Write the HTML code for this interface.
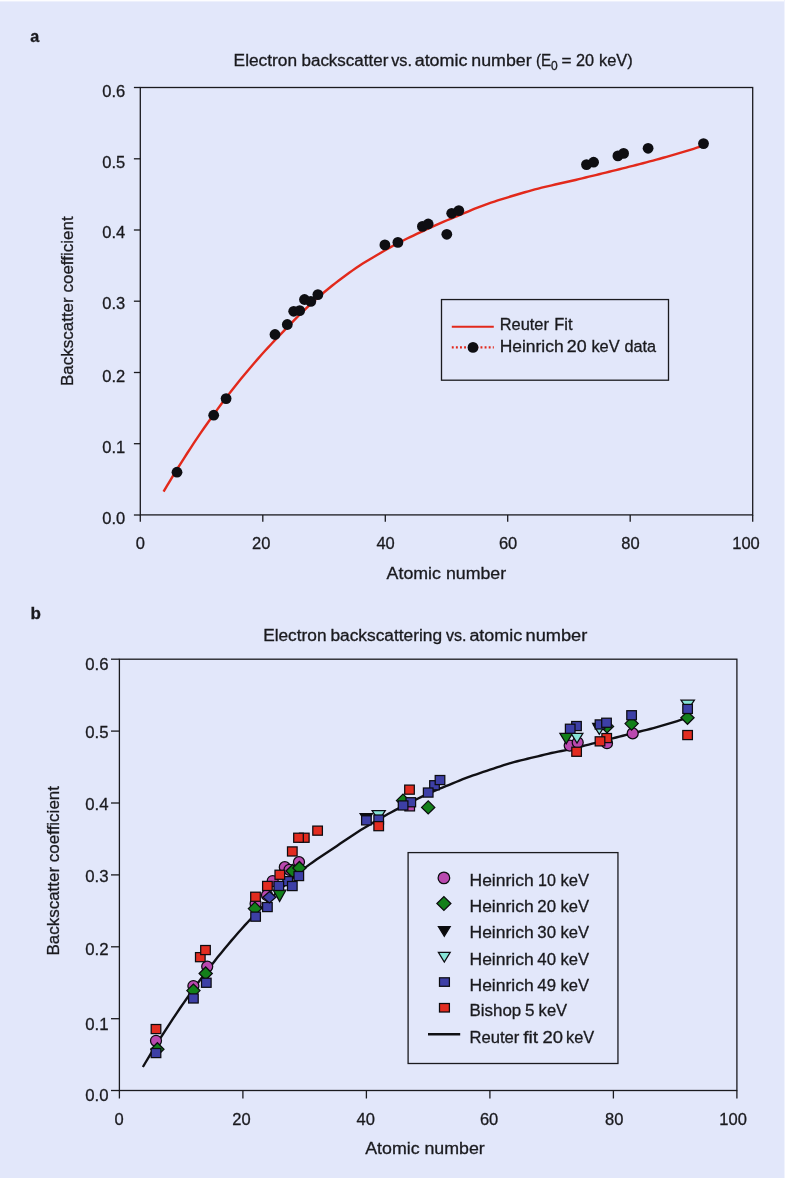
<!DOCTYPE html>
<html lang="en"><head><meta charset="utf-8"><title>Electron backscatter vs. atomic number</title>
<style>html,body{margin:0;padding:0;background:#e2e7fa;}body{width:785px;height:1178px;overflow:hidden;}svg{display:block;}text{font-family:"Liberation Sans", sans-serif;fill:#1a1a1e;stroke:#1a1a1e;stroke-width:0.3px;}</style>
</head><body>
<svg width="785" height="1178" viewBox="0 0 785 1178">
<rect x="0" y="0" width="785" height="1178" fill="#e2e7fa"/>
<rect x="0" y="0" width="785" height="1" fill="#fdfdfe"/>
<rect x="0" y="1" width="785" height="1" fill="#edf0fc"/>
<rect x="784" y="0" width="1" height="1178" fill="#f0f3fd"/>
<g id="chart-a">
<text x="30.2" y="41.6" font-size="17.4" textLength="9.0" lengthAdjust="spacingAndGlyphs" font-weight="bold">a</text>
<text y="66.4" font-size="15.6"><tspan x="233.6" textLength="63.5" lengthAdjust="spacingAndGlyphs">Electron</tspan> <tspan x="301.5" textLength="86.8" lengthAdjust="spacingAndGlyphs">backscatter</tspan> <tspan x="391.2" textLength="20.8" lengthAdjust="spacingAndGlyphs">vs.</tspan> <tspan x="414.7" textLength="52.7" lengthAdjust="spacingAndGlyphs">atomic</tspan> <tspan x="471.3" textLength="60.3" lengthAdjust="spacingAndGlyphs">number</tspan> <tspan x="536.0" textLength="15.2" lengthAdjust="spacingAndGlyphs">(E</tspan><tspan x="550.9" dy="3.6" font-size="12">0</tspan> <tspan x="561.6" dy="-3.6" textLength="10.0" lengthAdjust="spacingAndGlyphs">=</tspan> <tspan x="575.9" textLength="18.1" lengthAdjust="spacingAndGlyphs">20</tspan> <tspan x="599.0" textLength="33.8" lengthAdjust="spacingAndGlyphs">keV)</tspan></text>
<rect x="140.3" y="87.5" width="612.4" height="427.4" fill="none" stroke="#1a1a1e" stroke-width="1.3"/>
<line x1="133.9" y1="515.0" x2="140.3" y2="515.0" stroke="#1a1a1e" stroke-width="1.3"/>
<text x="125.2" y="523.8" font-size="16.5" text-anchor="end">0.0</text>
<line x1="133.9" y1="443.7" x2="140.3" y2="443.7" stroke="#1a1a1e" stroke-width="1.3"/>
<text x="125.2" y="452.9" font-size="16.5" text-anchor="end">0.1</text>
<line x1="133.9" y1="372.5" x2="140.3" y2="372.5" stroke="#1a1a1e" stroke-width="1.3"/>
<text x="125.2" y="381.9" font-size="16.5" text-anchor="end">0.2</text>
<line x1="133.9" y1="301.2" x2="140.3" y2="301.2" stroke="#1a1a1e" stroke-width="1.3"/>
<text x="125.2" y="309.0" font-size="16.5" text-anchor="end">0.3</text>
<line x1="133.9" y1="230.0" x2="140.3" y2="230.0" stroke="#1a1a1e" stroke-width="1.3"/>
<text x="125.2" y="238.4" font-size="16.5" text-anchor="end">0.4</text>
<line x1="133.9" y1="158.8" x2="140.3" y2="158.8" stroke="#1a1a1e" stroke-width="1.3"/>
<text x="125.2" y="168.0" font-size="16.5" text-anchor="end">0.5</text>
<line x1="133.9" y1="87.5" x2="140.3" y2="87.5" stroke="#1a1a1e" stroke-width="1.3"/>
<text x="125.2" y="97.2" font-size="16.5" text-anchor="end">0.6</text>
<line x1="140.3" y1="515.0" x2="140.3" y2="521.8" stroke="#1a1a1e" stroke-width="1.3"/>
<text x="140.3" y="549.0" font-size="16.5" text-anchor="middle">0</text>
<line x1="262.8" y1="515.0" x2="262.8" y2="521.8" stroke="#1a1a1e" stroke-width="1.3"/>
<text x="261.2" y="549.0" font-size="16.5" text-anchor="middle">20</text>
<line x1="385.3" y1="515.0" x2="385.3" y2="521.8" stroke="#1a1a1e" stroke-width="1.3"/>
<text x="385.6" y="549.0" font-size="16.5" text-anchor="middle">40</text>
<line x1="507.7" y1="515.0" x2="507.7" y2="521.8" stroke="#1a1a1e" stroke-width="1.3"/>
<text x="508.1" y="549.0" font-size="16.5" text-anchor="middle">60</text>
<line x1="630.2" y1="515.0" x2="630.2" y2="521.8" stroke="#1a1a1e" stroke-width="1.3"/>
<text x="630.5" y="549.0" font-size="16.5" text-anchor="middle">80</text>
<line x1="752.7" y1="515.0" x2="752.7" y2="521.8" stroke="#1a1a1e" stroke-width="1.3"/>
<text x="746.0" y="549.0" font-size="16.5" text-anchor="middle">100</text>
<text x="386.6" y="578.5" font-size="17.0" textLength="119.6" lengthAdjust="spacingAndGlyphs">Atomic number</text>
<text transform="translate(72.6,386.0) rotate(-90)" font-size="17.4" textLength="169.6" lengthAdjust="spacingAndGlyphs">Backscatter coefficient</text>
<polyline points="163.57,491.61 166.95,485.91 170.32,480.28 173.70,474.73 177.07,469.25 180.45,463.85 183.83,458.52 187.20,453.26 190.58,448.07 193.95,442.96 197.33,437.92 200.71,432.94 204.08,428.04 207.46,423.21 210.83,418.44 214.21,413.75 217.58,409.12 220.96,404.56 224.34,400.06 227.71,395.63 231.09,391.27 234.46,386.97 237.84,382.73 241.22,378.56 244.59,374.45 247.97,370.40 251.34,366.42 254.72,362.49 258.10,358.63 261.47,354.82 264.85,351.07 268.22,347.39 271.60,343.76 274.97,340.19 278.35,336.64 281.73,333.10 285.10,329.57 288.48,326.07 291.85,322.58 295.23,319.14 298.61,315.73 301.98,312.38 305.36,309.08 308.73,305.85 312.11,302.69 315.48,299.62 318.86,296.63 322.24,293.75 325.61,290.96 328.99,288.22 332.36,285.54 335.74,282.90 339.12,280.30 342.49,277.75 345.87,275.25 349.24,272.79 352.62,270.37 355.99,268.01 359.37,265.74 362.75,263.57 366.12,261.48 369.50,259.44 372.87,257.45 376.25,255.49 379.63,253.53 383.00,251.56 386.38,249.57 389.75,247.62 393.13,245.75 396.51,243.94 399.88,242.18 403.26,240.47 406.63,238.79 410.01,237.16 413.38,235.55 416.76,233.96 420.14,232.38 423.51,230.81 426.89,229.24 430.26,227.67 433.64,226.12 437.02,224.61 440.39,223.12 443.77,221.66 447.14,220.23 450.52,218.82 453.89,217.44 457.27,216.04 460.65,214.62 464.02,213.20 467.40,211.77 470.77,210.36 474.15,208.96 477.53,207.60 480.90,206.29 484.28,205.02 487.65,203.81 491.03,202.67 494.40,201.56 497.78,200.46 501.16,199.38 504.53,198.32 507.91,197.28 511.28,196.25 514.66,195.23 518.04,194.23 521.41,193.25 524.79,192.27 528.16,191.31 531.54,190.37 534.92,189.44 538.29,188.55 541.67,187.70 545.04,186.88 548.42,186.08 551.79,185.31 555.17,184.54 558.55,183.79 561.92,183.04 565.30,182.29 568.67,181.54 572.05,180.77 575.43,179.99 578.80,179.19 582.18,178.36 585.55,177.53 588.93,176.70 592.30,175.87 595.68,175.05 599.06,174.22 602.43,173.39 605.81,172.56 609.18,171.73 612.56,170.90 615.94,170.07 619.31,169.23 622.69,168.39 626.06,167.54 629.44,166.69 632.82,165.84 636.19,164.98 639.57,164.11 642.94,163.23 646.32,162.35 649.69,161.45 653.07,160.55 656.45,159.64 659.82,158.72 663.20,157.78 666.57,156.84 669.95,155.88 673.33,154.91 676.70,153.93 680.08,152.94 683.45,151.92 686.83,150.90 690.20,149.86 693.58,148.80 696.96,147.72 700.33,146.63 703.71,145.52" fill="none" stroke="#e2291b" stroke-width="2.4"/>
<circle cx="177.0" cy="472.2" r="5.4" fill="#0e0e12"/>
<circle cx="213.7" cy="415.2" r="5.4" fill="#0e0e12"/>
<circle cx="226.1" cy="398.6" r="5.4" fill="#0e0e12"/>
<circle cx="275.0" cy="334.5" r="5.4" fill="#0e0e12"/>
<circle cx="287.3" cy="324.5" r="5.4" fill="#0e0e12"/>
<circle cx="293.7" cy="311.3" r="5.4" fill="#0e0e12"/>
<circle cx="299.7" cy="310.6" r="5.4" fill="#0e0e12"/>
<circle cx="304.5" cy="299.5" r="5.4" fill="#0e0e12"/>
<circle cx="310.8" cy="301.4" r="5.4" fill="#0e0e12"/>
<circle cx="317.9" cy="294.6" r="5.4" fill="#0e0e12"/>
<circle cx="384.9" cy="244.9" r="5.4" fill="#0e0e12"/>
<circle cx="397.9" cy="242.4" r="5.4" fill="#0e0e12"/>
<circle cx="422.4" cy="226.4" r="5.4" fill="#0e0e12"/>
<circle cx="428.2" cy="224.0" r="5.4" fill="#0e0e12"/>
<circle cx="446.8" cy="234.3" r="5.4" fill="#0e0e12"/>
<circle cx="451.7" cy="213.3" r="5.4" fill="#0e0e12"/>
<circle cx="458.8" cy="210.6" r="5.4" fill="#0e0e12"/>
<circle cx="586.5" cy="164.6" r="5.4" fill="#0e0e12"/>
<circle cx="593.6" cy="162.2" r="5.4" fill="#0e0e12"/>
<circle cx="617.9" cy="155.9" r="5.4" fill="#0e0e12"/>
<circle cx="623.6" cy="153.4" r="5.4" fill="#0e0e12"/>
<circle cx="648.1" cy="148.3" r="5.4" fill="#0e0e12"/>
<circle cx="703.5" cy="143.6" r="5.4" fill="#0e0e12"/>
<rect x="441.5" y="299.55" width="227.0" height="80.65" fill="#e2e7fa" stroke="#1a1a1e" stroke-width="1.3"/>
<line x1="451.8" y1="326.7" x2="493.8" y2="326.7" stroke="#e2291b" stroke-width="2.1"/>
<line x1="451.8" y1="347.4" x2="493.8" y2="347.4" stroke="#e2291b" stroke-width="2.1" stroke-dasharray="1.9 2.2"/>
<circle cx="473.0" cy="347.4" r="5.4" fill="#0e0e12"/>
<text y="329.7" font-size="16.3"><tspan x="499.7" textLength="49.2" lengthAdjust="spacingAndGlyphs">Reuter</tspan> <tspan x="554.2" textLength="18.3" lengthAdjust="spacingAndGlyphs">Fit</tspan></text>
<text y="351.9" font-size="16.3"><tspan x="499.7" textLength="64.0" lengthAdjust="spacingAndGlyphs">Heinrich</tspan> <tspan x="566.8" textLength="19.8" lengthAdjust="spacingAndGlyphs">20</tspan> <tspan x="591.4" textLength="28.3" lengthAdjust="spacingAndGlyphs">keV</tspan> <tspan x="624.5" textLength="31.6" lengthAdjust="spacingAndGlyphs">data</tspan></text>
</g>
<g id="chart-b">
<text x="30.4" y="619.2" font-size="17.0" font-weight="bold">b</text>
<text y="640.5" font-size="15.8"><tspan x="263.2" textLength="63.3" lengthAdjust="spacingAndGlyphs">Electron</tspan> <tspan x="330.4" textLength="111.7" lengthAdjust="spacingAndGlyphs">backscattering</tspan> <tspan x="446.0" textLength="20.5" lengthAdjust="spacingAndGlyphs">vs.</tspan> <tspan x="469.4" textLength="52.8" lengthAdjust="spacingAndGlyphs">atomic</tspan> <tspan x="525.5" textLength="61.8" lengthAdjust="spacingAndGlyphs">number</tspan></text>
<rect x="119.4" y="659.2" width="617.5" height="431.3" fill="none" stroke="#1a1a1e" stroke-width="1.3"/>
<line x1="111.0" y1="1090.5" x2="119.4" y2="1090.5" stroke="#1a1a1e" stroke-width="1.3"/>
<text x="108.6" y="1100.6" font-size="16.8" text-anchor="end">0.0</text>
<line x1="111.0" y1="1018.7" x2="119.4" y2="1018.7" stroke="#1a1a1e" stroke-width="1.3"/>
<text x="108.6" y="1029.7" font-size="16.8" text-anchor="end">0.1</text>
<line x1="111.0" y1="946.8" x2="119.4" y2="946.8" stroke="#1a1a1e" stroke-width="1.3"/>
<text x="108.6" y="954.8" font-size="16.8" text-anchor="end">0.2</text>
<line x1="111.0" y1="874.9" x2="119.4" y2="874.9" stroke="#1a1a1e" stroke-width="1.3"/>
<text x="108.6" y="882.3" font-size="16.8" text-anchor="end">0.3</text>
<line x1="111.0" y1="803.0" x2="119.4" y2="803.0" stroke="#1a1a1e" stroke-width="1.3"/>
<text x="108.6" y="810.0" font-size="16.8" text-anchor="end">0.4</text>
<line x1="111.0" y1="731.1" x2="119.4" y2="731.1" stroke="#1a1a1e" stroke-width="1.3"/>
<text x="108.6" y="738.0" font-size="16.8" text-anchor="end">0.5</text>
<line x1="111.0" y1="659.2" x2="119.4" y2="659.2" stroke="#1a1a1e" stroke-width="1.3"/>
<text x="108.6" y="669.5" font-size="16.8" text-anchor="end">0.6</text>
<line x1="119.4" y1="1090.5" x2="119.4" y2="1098.5" stroke="#1a1a1e" stroke-width="1.3"/>
<text x="119.1" y="1125.2" font-size="16.5" text-anchor="middle">0</text>
<line x1="242.9" y1="1090.5" x2="242.9" y2="1098.5" stroke="#1a1a1e" stroke-width="1.3"/>
<text x="241.4" y="1125.2" font-size="16.5" text-anchor="middle">20</text>
<line x1="366.4" y1="1090.5" x2="366.4" y2="1098.5" stroke="#1a1a1e" stroke-width="1.3"/>
<text x="365.8" y="1125.2" font-size="16.5" text-anchor="middle">40</text>
<line x1="489.9" y1="1090.5" x2="489.9" y2="1098.5" stroke="#1a1a1e" stroke-width="1.3"/>
<text x="489.1" y="1125.2" font-size="16.5" text-anchor="middle">60</text>
<line x1="613.4" y1="1090.5" x2="613.4" y2="1098.5" stroke="#1a1a1e" stroke-width="1.3"/>
<text x="614.3" y="1125.2" font-size="16.5" text-anchor="middle">80</text>
<line x1="736.9" y1="1090.5" x2="736.9" y2="1098.5" stroke="#1a1a1e" stroke-width="1.3"/>
<text x="733.1" y="1125.2" font-size="16.5" text-anchor="middle">100</text>
<text x="365.2" y="1153.5" font-size="17.0" textLength="119.6" lengthAdjust="spacingAndGlyphs">Atomic number</text>
<text transform="translate(59.4,955.6) rotate(-90)" font-size="17.4" textLength="169.6" lengthAdjust="spacingAndGlyphs">Backscatter coefficient</text>
<polyline points="142.87,1067.00 146.27,1061.24 149.67,1055.56 153.08,1049.96 156.48,1044.43 159.88,1038.98 163.29,1033.60 166.69,1028.29 170.10,1023.06 173.50,1017.90 176.90,1012.81 180.31,1007.79 183.71,1002.84 187.12,997.96 190.52,993.15 193.92,988.42 197.33,983.74 200.73,979.14 204.14,974.60 207.54,970.13 210.94,965.73 214.35,961.39 217.75,957.11 221.16,952.90 224.56,948.75 227.96,944.67 231.37,940.65 234.77,936.68 238.18,932.78 241.58,928.94 244.98,925.16 248.39,921.44 251.79,917.78 255.20,914.17 258.60,910.63 262.00,907.14 265.41,903.70 268.81,900.32 272.22,897.00 275.62,893.73 279.02,890.51 282.43,887.35 285.83,884.24 289.24,881.18 292.64,878.17 296.04,875.22 299.45,872.32 302.85,869.54 306.26,866.89 309.66,864.35 313.06,861.91 316.47,859.55 319.87,857.24 323.28,854.97 326.68,852.72 330.08,850.47 333.49,848.21 336.89,845.91 340.30,843.57 343.70,841.24 347.10,838.94 350.51,836.66 353.91,834.42 357.32,832.23 360.72,830.08 364.12,827.99 367.53,825.95 370.93,823.92 374.33,821.90 377.74,819.89 381.14,817.90 384.55,815.95 387.95,814.04 391.35,812.18 394.76,810.39 398.16,808.66 401.57,806.94 404.97,805.21 408.37,803.47 411.78,801.73 415.18,800.01 418.59,798.30 421.99,796.62 425.39,794.98 428.80,793.38 432.20,791.84 435.61,790.36 439.01,788.94 442.41,787.58 445.82,786.21 449.22,784.81 452.63,783.40 456.03,781.99 459.43,780.60 462.84,779.23 466.24,777.91 469.65,776.63 473.05,775.41 476.45,774.27 479.86,773.13 483.26,771.98 486.67,770.83 490.07,769.67 493.47,768.52 496.88,767.38 500.28,766.27 503.69,765.19 507.09,764.14 510.49,763.14 513.90,762.19 517.30,761.28 520.71,760.41 524.11,759.57 527.51,758.74 530.92,757.93 534.32,757.13 537.73,756.32 541.13,755.50 544.53,754.67 547.94,753.82 551.34,753.04 554.75,752.34 558.15,751.69 561.55,751.05 564.96,750.38 568.36,749.65 571.77,748.82 575.17,747.98 578.57,747.13 581.98,746.27 585.38,745.41 588.78,744.54 592.19,743.67 595.59,742.80 599.00,741.92 602.40,741.04 605.80,740.16 609.21,739.28 612.61,738.40 616.02,737.52 619.42,736.63 622.82,735.75 626.23,734.89 629.63,734.03 633.04,733.20 636.44,732.36 639.84,731.53 643.25,730.69 646.65,729.84 650.06,728.97 653.46,728.07 656.86,727.15 660.27,726.20 663.67,725.20 667.08,724.18 670.48,723.14 673.88,722.09 677.29,721.02 680.69,719.94 684.10,718.84 687.50,717.71" fill="none" stroke="#101014" stroke-width="2.4"/>
<circle cx="156.0" cy="1040.8" r="5.5" fill="#ba49af" stroke="#0c0c10" stroke-width="1.25"/>
<circle cx="193.4" cy="986.0" r="5.5" fill="#ba49af" stroke="#0c0c10" stroke-width="1.25"/>
<circle cx="207.2" cy="966.6" r="5.5" fill="#ba49af" stroke="#0c0c10" stroke-width="1.25"/>
<circle cx="255.6" cy="903.7" r="5.5" fill="#ba49af" stroke="#0c0c10" stroke-width="1.25"/>
<circle cx="267.0" cy="895.2" r="5.5" fill="#ba49af" stroke="#0c0c10" stroke-width="1.25"/>
<circle cx="272.7" cy="881.0" r="5.5" fill="#ba49af" stroke="#0c0c10" stroke-width="1.25"/>
<circle cx="284.8" cy="867.2" r="5.5" fill="#ba49af" stroke="#0c0c10" stroke-width="1.25"/>
<circle cx="289.5" cy="869.8" r="5.5" fill="#ba49af" stroke="#0c0c10" stroke-width="1.25"/>
<circle cx="299.0" cy="862.1" r="5.5" fill="#ba49af" stroke="#0c0c10" stroke-width="1.25"/>
<circle cx="569.7" cy="745.6" r="5.5" fill="#ba49af" stroke="#0c0c10" stroke-width="1.25"/>
<circle cx="577.7" cy="742.5" r="5.5" fill="#ba49af" stroke="#0c0c10" stroke-width="1.25"/>
<circle cx="607.0" cy="743.2" r="5.5" fill="#ba49af" stroke="#0c0c10" stroke-width="1.25"/>
<circle cx="632.7" cy="733.4" r="5.5" fill="#ba49af" stroke="#0c0c10" stroke-width="1.25"/>
<rect x="404.9" y="801.8" width="9.6" height="9.1" fill="#ba49af" stroke="#0c0c10" stroke-width="1.25"/>
<polygon points="150.8,1049.2 157.4,1042.7 164.0,1049.2 157.4,1055.7" fill="#13801a" stroke="#0c0c10" stroke-width="1.25"/>
<polygon points="186.8,990.6 193.4,984.1 200.0,990.6 193.4,997.1" fill="#13801a" stroke="#0c0c10" stroke-width="1.25"/>
<polygon points="199.1,973.5 205.7,967.0 212.3,973.5 205.7,980.0" fill="#13801a" stroke="#0c0c10" stroke-width="1.25"/>
<polygon points="248.3,908.6 254.9,902.1 261.5,908.6 254.9,915.1" fill="#13801a" stroke="#0c0c10" stroke-width="1.25"/>
<polygon points="286.0,871.0 292.6,864.5 299.2,871.0 292.6,877.5" fill="#13801a" stroke="#0c0c10" stroke-width="1.25"/>
<polygon points="292.8,868.0 299.4,861.5 306.0,868.0 299.4,874.5" fill="#13801a" stroke="#0c0c10" stroke-width="1.25"/>
<polygon points="396.4,800.6 403.0,794.1 409.6,800.6 403.0,807.1" fill="#13801a" stroke="#0c0c10" stroke-width="1.25"/>
<polygon points="421.6,807.4 428.2,800.9 434.8,807.4 428.2,813.9" fill="#13801a" stroke="#0c0c10" stroke-width="1.25"/>
<polygon points="600.4,726.4 607.0,719.9 613.6,726.4 607.0,732.9" fill="#13801a" stroke="#0c0c10" stroke-width="1.25"/>
<polygon points="625.0,723.6 631.6,717.1 638.2,723.6 631.6,730.1" fill="#13801a" stroke="#0c0c10" stroke-width="1.25"/>
<polygon points="680.9,717.8 687.5,711.3 694.1,717.8 687.5,724.3" fill="#13801a" stroke="#0c0c10" stroke-width="1.25"/>
<polygon points="360.1,813.6 372.5,813.6 366.3,823.2" fill="#0a0a0c" stroke="#0c0c10" stroke-width="1.25"/>
<polygon points="592.7,723.3 605.1,723.3 598.9,732.9" fill="#0a0a0c" stroke="#0c0c10" stroke-width="1.25"/>
<polygon points="273.3,890.2 285.9,890.2 279.6,901.4" fill="#13801a" stroke="#0c0c10" stroke-width="1.25"/>
<polygon points="559.9,733.4 572.5,733.4 566.2,743.8" fill="#13801a" stroke="#0c0c10" stroke-width="1.25"/>
<polygon points="372.1,810.7 385.3,810.7 378.7,820.7" fill="#86e3d6" stroke="#0c0c10" stroke-width="1.25"/>
<polygon points="571.1,733.4 582.9,733.4 577.0,743.0" fill="#86e3d6" stroke="#0c0c10" stroke-width="1.25"/>
<polygon points="593.5,725.0 605.1,725.0 599.3,734.4" fill="#86e3d6" stroke="#0c0c10" stroke-width="1.25"/>
<polygon points="681.0,700.2 694.4,700.2 687.7,710.2" fill="#86e3d6" stroke="#0c0c10" stroke-width="1.25"/>
<rect x="151.2" y="1048.5" width="9.6" height="9.1" fill="#3d3fa6" stroke="#0c0c10" stroke-width="1.25"/>
<rect x="188.6" y="993.9" width="9.6" height="9.1" fill="#3d3fa6" stroke="#0c0c10" stroke-width="1.25"/>
<rect x="201.5" y="978.2" width="9.6" height="9.1" fill="#3d3fa6" stroke="#0c0c10" stroke-width="1.25"/>
<rect x="250.8" y="912.1" width="9.6" height="9.1" fill="#3d3fa6" stroke="#0c0c10" stroke-width="1.25"/>
<rect x="262.6" y="902.5" width="9.6" height="9.1" fill="#3d3fa6" stroke="#0c0c10" stroke-width="1.25"/>
<rect x="282.9" y="876.6" width="9.6" height="9.1" fill="#3d3fa6" stroke="#0c0c10" stroke-width="1.25"/>
<rect x="274.0" y="881.4" width="9.6" height="9.1" fill="#3d3fa6" stroke="#0c0c10" stroke-width="1.25"/>
<rect x="287.5" y="881.5" width="9.6" height="9.1" fill="#3d3fa6" stroke="#0c0c10" stroke-width="1.25"/>
<rect x="294.0" y="871.5" width="9.6" height="9.1" fill="#3d3fa6" stroke="#0c0c10" stroke-width="1.25"/>
<rect x="361.6" y="815.8" width="9.6" height="9.1" fill="#3d3fa6" stroke="#0c0c10" stroke-width="1.25"/>
<rect x="373.9" y="815.0" width="9.6" height="9.1" fill="#3d3fa6" stroke="#0c0c10" stroke-width="1.25"/>
<rect x="406.0" y="797.7" width="9.6" height="9.1" fill="#3d3fa6" stroke="#0c0c10" stroke-width="1.25"/>
<rect x="398.3" y="800.9" width="9.6" height="9.1" fill="#3d3fa6" stroke="#0c0c10" stroke-width="1.25"/>
<rect x="429.7" y="780.7" width="9.6" height="9.1" fill="#3d3fa6" stroke="#0c0c10" stroke-width="1.25"/>
<rect x="423.4" y="788.0" width="9.6" height="9.1" fill="#3d3fa6" stroke="#0c0c10" stroke-width="1.25"/>
<rect x="435.2" y="775.5" width="9.6" height="9.1" fill="#3d3fa6" stroke="#0c0c10" stroke-width="1.25"/>
<rect x="571.7" y="721.5" width="9.6" height="9.1" fill="#3d3fa6" stroke="#0c0c10" stroke-width="1.25"/>
<rect x="565.4" y="724.2" width="9.6" height="9.1" fill="#3d3fa6" stroke="#0c0c10" stroke-width="1.25"/>
<rect x="595.2" y="719.9" width="9.6" height="9.1" fill="#3d3fa6" stroke="#0c0c10" stroke-width="1.25"/>
<rect x="601.7" y="718.2" width="9.6" height="9.1" fill="#3d3fa6" stroke="#0c0c10" stroke-width="1.25"/>
<rect x="626.8" y="710.7" width="9.6" height="9.1" fill="#3d3fa6" stroke="#0c0c10" stroke-width="1.25"/>
<rect x="682.8" y="704.4" width="9.6" height="9.1" fill="#3d3fa6" stroke="#0c0c10" stroke-width="1.25"/>
<polygon points="262.9,897.3 269.4,891.6 275.9,897.3 269.4,903.0" fill="#3d3fa6" stroke="#0c0c10" stroke-width="1.25"/>
<rect x="151.2" y="1024.5" width="9.6" height="9.1" fill="#e22c20" stroke="#0c0c10" stroke-width="1.25"/>
<rect x="195.5" y="952.6" width="9.6" height="9.1" fill="#e22c20" stroke="#0c0c10" stroke-width="1.25"/>
<rect x="200.7" y="945.5" width="9.6" height="9.1" fill="#e22c20" stroke="#0c0c10" stroke-width="1.25"/>
<rect x="250.7" y="892.2" width="9.6" height="9.1" fill="#e22c20" stroke="#0c0c10" stroke-width="1.25"/>
<rect x="262.6" y="881.4" width="9.6" height="9.1" fill="#e22c20" stroke="#0c0c10" stroke-width="1.25"/>
<rect x="275.0" y="870.2" width="9.6" height="9.1" fill="#e22c20" stroke="#0c0c10" stroke-width="1.25"/>
<rect x="287.5" y="846.9" width="9.6" height="9.1" fill="#e22c20" stroke="#0c0c10" stroke-width="1.25"/>
<rect x="299.5" y="833.2" width="9.6" height="9.1" fill="#e22c20" stroke="#0c0c10" stroke-width="1.25"/>
<rect x="293.7" y="833.2" width="9.6" height="9.1" fill="#e22c20" stroke="#0c0c10" stroke-width="1.25"/>
<rect x="312.8" y="826.1" width="9.6" height="9.1" fill="#e22c20" stroke="#0c0c10" stroke-width="1.25"/>
<rect x="373.9" y="821.6" width="9.6" height="9.1" fill="#e22c20" stroke="#0c0c10" stroke-width="1.25"/>
<rect x="404.7" y="785.1" width="9.6" height="9.1" fill="#e22c20" stroke="#0c0c10" stroke-width="1.25"/>
<rect x="571.8" y="747.2" width="9.6" height="9.1" fill="#e22c20" stroke="#0c0c10" stroke-width="1.25"/>
<rect x="601.9" y="733.5" width="9.6" height="9.1" fill="#e22c20" stroke="#0c0c10" stroke-width="1.25"/>
<rect x="595.2" y="736.8" width="9.6" height="9.1" fill="#e22c20" stroke="#0c0c10" stroke-width="1.25"/>
<rect x="682.8" y="730.5" width="9.6" height="9.1" fill="#e22c20" stroke="#0c0c10" stroke-width="1.25"/>
<rect x="408.1" y="852.6" width="209.85" height="210.9" fill="#e2e7fa" stroke="#1a1a1e" stroke-width="1.3"/>
<circle cx="443.9" cy="877.9" r="5.8" fill="#ba49af" stroke="#0c0c10" stroke-width="1.25"/>
<polygon points="436.9,903.5 443.9,896.6 450.9,903.5 443.9,910.4" fill="#13801a" stroke="#0c0c10" stroke-width="1.25"/>
<polygon points="438.4,926.6 450.2,926.6 444.3,936.2" fill="#0a0a0c" stroke="#0c0c10" stroke-width="1.25"/>
<polygon points="438.4,952.4 450.2,952.4 444.3,962.0" fill="#86e3d6" stroke="#0c0c10" stroke-width="1.25"/>
<rect x="439.5" y="977.8" width="9.9" height="8.5" fill="#3d3fa6" stroke="#0c0c10" stroke-width="1.25"/>
<rect x="439.5" y="1003.5" width="9.9" height="8.5" fill="#e22c20" stroke="#0c0c10" stroke-width="1.25"/>
<line x1="428.0" y1="1034.3" x2="460.2" y2="1034.3" stroke="#101014" stroke-width="2.4"/>
<text y="886.0" font-size="16.5"><tspan x="469.5" textLength="64.2" lengthAdjust="spacingAndGlyphs">Heinrich</tspan> <tspan x="538.1" textLength="17.9" lengthAdjust="spacingAndGlyphs">10</tspan> <tspan x="560.4" textLength="28.6" lengthAdjust="spacingAndGlyphs">keV</tspan></text>
<text y="912.0" font-size="16.5"><tspan x="469.5" textLength="64.2" lengthAdjust="spacingAndGlyphs">Heinrich</tspan> <tspan x="537.3" textLength="18.7" lengthAdjust="spacingAndGlyphs">20</tspan> <tspan x="560.4" textLength="28.6" lengthAdjust="spacingAndGlyphs">keV</tspan></text>
<text y="938.0" font-size="16.5"><tspan x="469.5" textLength="64.2" lengthAdjust="spacingAndGlyphs">Heinrich</tspan> <tspan x="537.3" textLength="18.7" lengthAdjust="spacingAndGlyphs">30</tspan> <tspan x="560.4" textLength="28.6" lengthAdjust="spacingAndGlyphs">keV</tspan></text>
<text y="964.6" font-size="16.5"><tspan x="469.5" textLength="64.2" lengthAdjust="spacingAndGlyphs">Heinrich</tspan> <tspan x="537.3" textLength="18.7" lengthAdjust="spacingAndGlyphs">40</tspan> <tspan x="560.4" textLength="28.6" lengthAdjust="spacingAndGlyphs">keV</tspan></text>
<text y="991.0" font-size="16.5"><tspan x="469.5" textLength="64.2" lengthAdjust="spacingAndGlyphs">Heinrich</tspan> <tspan x="537.3" textLength="18.7" lengthAdjust="spacingAndGlyphs">49</tspan> <tspan x="560.4" textLength="28.6" lengthAdjust="spacingAndGlyphs">keV</tspan></text>
<text y="1016.2" font-size="16.5"><tspan x="469.5" textLength="51.7" lengthAdjust="spacingAndGlyphs">Bishop</tspan> <tspan x="525.1" textLength="9.5" lengthAdjust="spacingAndGlyphs">5</tspan> <tspan x="538.6" textLength="28.6" lengthAdjust="spacingAndGlyphs">keV</tspan></text>
<text y="1043.4" font-size="16.5"><tspan x="469.5" textLength="49.9" lengthAdjust="spacingAndGlyphs">Reuter</tspan> <tspan x="523.2" textLength="15.0" lengthAdjust="spacingAndGlyphs">fit</tspan> <tspan x="542.6" textLength="20.5" lengthAdjust="spacingAndGlyphs">20</tspan> <tspan x="566.1" textLength="28.2" lengthAdjust="spacingAndGlyphs">keV</tspan></text>
</g>
</svg></body></html>
